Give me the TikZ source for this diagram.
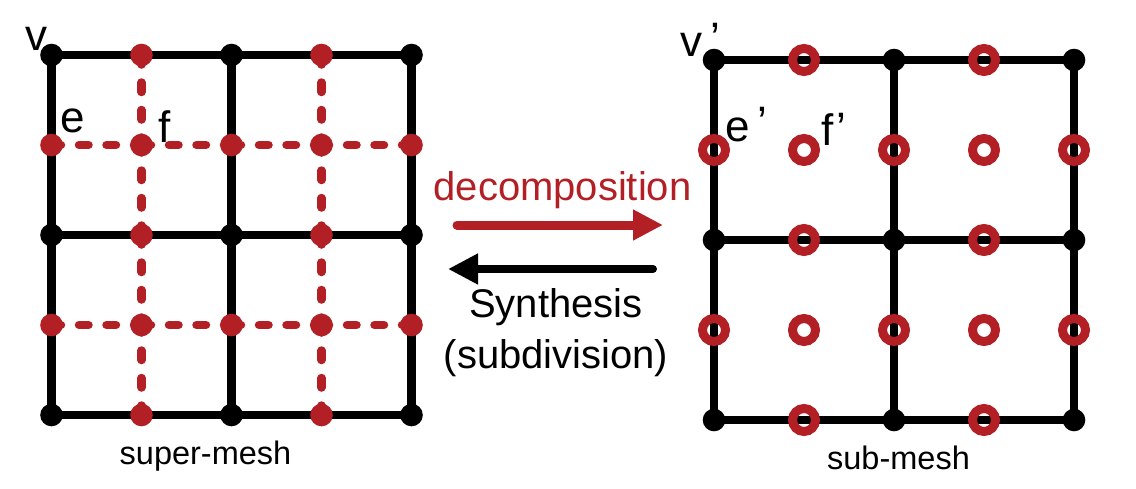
\documentclass[tikz,border=0pt]{standalone}
\usepackage{xcolor}
\usepackage{fontspec}
\setmainfont{Liberation Sans}
\usetikzlibrary{arrows.meta, positioning, backgrounds}
\definecolor{meshred}{RGB}{178,32,38}

\begin{document}
\begin{tikzpicture}[x=1pt,y=-1pt,node distance=90pt,on grid,>={Triangle[length=30pt,width=29pt]}]
	\useasboundingbox (0,0) rectangle (1136,488);
	\tikzset{vert/.style={circle,fill=black,inner sep=0pt,minimum size=22.6pt}}
	\tikzset{reddot/.style={circle,fill=meshred,inner sep=0pt,minimum size=22.6pt}}
	\tikzset{redring/.style={circle,draw=meshred,line width=9pt,inner sep=0pt,minimum size=23pt}}
	\tikzset{meshline/.style={line width=8.6pt,black}}
	\tikzset{dualline/.style={line width=8.5pt,meshred,line cap=round,dash pattern=on 9.5pt off 18pt}}
	\tikzset{bigarrow/.style={->,line cap=round}}
	\tikzset{marklabel/.style={inner sep=0pt,anchor=base west,font=\fontsize{44}{44}\selectfont}}
	\tikzset{meshlabel/.style={inner sep=0pt,anchor=base,font=\fontsize{32.5}{32.5}\selectfont}}
	\tikzset{oplabel/.style={inner sep=0pt,font=\fontsize{40}{51}\selectfont}}

	\node[vert] (S11) at (51.5,55) {};
	\node[reddot] (S12) [right =of S11] {};
	\node[vert] (S13) [right =of S12] {};
	\node[reddot] (S14) [right =of S13] {};
	\node[vert] (S15) [right =of S14] {};
	\node[reddot] (S21) [below =of S11] {};
	\node[reddot] (S22) [right =of S21] {};
	\node[reddot] (S23) [right =of S22] {};
	\node[reddot] (S24) [right =of S23] {};
	\node[reddot] (S25) [right =of S24] {};
	\node[vert] (S31) [below =of S21] {};
	\node[reddot] (S32) [right =of S31] {};
	\node[vert] (S33) [right =of S32] {};
	\node[reddot] (S34) [right =of S33] {};
	\node[vert] (S35) [right =of S34] {};
	\node[reddot] (S41) [below =of S31] {};
	\node[reddot] (S42) [right =of S41] {};
	\node[reddot] (S43) [right =of S42] {};
	\node[reddot] (S44) [right =of S43] {};
	\node[reddot] (S45) [right =of S44] {};
	\node[vert] (S51) [below =of S41] {};
	\node[reddot] (S52) [right =of S51] {};
	\node[vert] (S53) [right =of S52] {};
	\node[reddot] (S54) [right =of S53] {};
	\node[vert] (S55) [right =of S54] {};

	\node[vert] (R11) at (714,60) {};
	\node[redring] (R12) [right =of R11] {};
	\node[vert] (R13) [right =of R12] {};
	\node[redring] (R14) [right =of R13] {};
	\node[vert] (R15) [right =of R14] {};
	\node[redring] (R21) [below =of R11] {};
	\node[redring] (R22) [right =of R21] {};
	\node[redring] (R23) [right =of R22] {};
	\node[redring] (R24) [right =of R23] {};
	\node[redring] (R25) [right =of R24] {};
	\node[vert] (R31) [below =of R21] {};
	\node[redring] (R32) [right =of R31] {};
	\node[vert] (R33) [right =of R32] {};
	\node[redring] (R34) [right =of R33] {};
	\node[vert] (R35) [right =of R34] {};
	\node[redring] (R41) [below =of R31] {};
	\node[redring] (R42) [right =of R41] {};
	\node[redring] (R43) [right =of R42] {};
	\node[redring] (R44) [right =of R43] {};
	\node[redring] (R45) [right =of R44] {};
	\node[vert] (R51) [below =of R41] {};
	\node[redring] (R52) [right =of R51] {};
	\node[vert] (R53) [right =of R52] {};
	\node[redring] (R54) [right =of R53] {};
	\node[vert] (R55) [right =of R54] {};

	\begin{scope}[on background layer]
		\draw[meshline] (S11.center) -- (S15.center);
		\draw[meshline] (S31.center) -- (S35.center);
		\draw[meshline] (S51.center) -- (S55.center);
		\draw[meshline] (S11.center) -- (S51.center);
		\draw[meshline] (S13.center) -- (S53.center);
		\draw[meshline] (S15.center) -- (S55.center);

		\draw[dualline] (S21.center) -- (S22.center);
		\draw[dualline] (S22.center) -- (S23.center);
		\draw[dualline] (S23.center) -- (S24.center);
		\draw[dualline] (S25.center) -- (S24.center);
		\draw[dualline] (S41.center) -- (S42.center);
		\draw[dualline] (S42.center) -- (S43.center);
		\draw[dualline] (S43.center) -- (S44.center);
		\draw[dualline] (S45.center) -- (S44.center);
		\draw[dualline] (S12.center) -- (S22.center);
		\draw[dualline] (S32.center) -- (S22.center);
		\draw[dualline] (S32.center) -- (S42.center);
		\draw[dualline] (S52.center) -- (S42.center);
		\draw[dualline] (S14.center) -- (S24.center);
		\draw[dualline] (S34.center) -- (S24.center);
		\draw[dualline] (S34.center) -- (S44.center);
		\draw[dualline] (S54.center) -- (S44.center);

		\draw[meshline] (R11.center) -- (R15.center);
		\draw[meshline] (R31.center) -- (R35.center);
		\draw[meshline] (R51.center) -- (R55.center);
		\draw[meshline] (R11.center) -- (R51.center);
		\draw[meshline] (R13.center) -- (R53.center);
		\draw[meshline] (R15.center) -- (R55.center);
	\end{scope}

	\node[marklabel] (Lv) at (25,50) {v};
	\node[marklabel] (Le) at (60,132) {e};
	\node[marklabel] (Lf) at (158,142) {f};
	\node[marklabel] (Lv2) at (680,56) {v\kern8pt\raisebox{3pt}{’}};
	\node[marklabel] (Le2) at (725,141) {e\kern8pt\raisebox{4pt}{’}};
	\node[marklabel] (Lf2) at (821,145) {f\kern3pt\raisebox{2pt}{’}};

	\coordinate (A1) at (457,225);
	\coordinate (A2) at (663,225);
	\coordinate (B1) at (653,269);
	\coordinate (B2) at (448,269);
	\draw[bigarrow,line width=9pt,meshred] (A1) -- (A2);
	\draw[bigarrow,line width=8pt,black] (B1) -- (B2);

	\node[oplabel,anchor=base,text=meshred] (Tdec) at (562.5,200) {decomposition};
	\node[oplabel,align=center] (Tsyn) at (556,333) {Synthesis\\(subdivision)};
	\node[meshlabel] (Csup) at (205.5,464) {super-mesh};
	\node[meshlabel] (Csub) at (898.5,469) {sub-mesh};
\end{tikzpicture}
\end{document}
